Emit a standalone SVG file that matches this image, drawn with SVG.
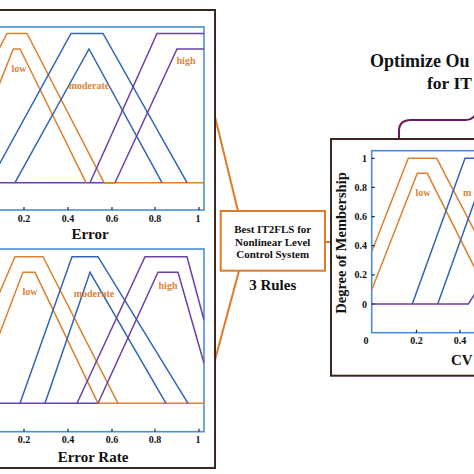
<svg xmlns="http://www.w3.org/2000/svg" width="474" height="474" viewBox="0 0 474 474">
<style>
text{font-family:"Liberation Serif","Times New Roman",serif;font-weight:bold}
.box{fill:none;stroke:#3b2620;stroke-width:2}
.frame{fill:none;stroke:#4a8fd6;stroke-width:1.6}
.mf{fill:none;stroke-width:1.5;stroke-linejoin:miter}
.o{stroke:#dc822f}
.b{stroke:#3463b4}
.p{stroke:#6a40a6}
.tick{stroke:#1a2a55;stroke-width:1.2}
.tl{font-size:10px;fill:#111;text-anchor:middle}
.lab{font-size:10px;fill:#d9853c}
.ax{font-size:15px;fill:#111;text-anchor:middle}
.con{fill:none;stroke:#e07b2a;stroke-width:2}
</style>
<defs>
<clipPath id="c1"><rect x="-30" y="27" width="234" height="183"/></clipPath>
<clipPath id="c2"><rect x="-30" y="249" width="234" height="182.7"/></clipPath>
<clipPath id="c3"><rect x="371.7" y="150.7" width="120" height="182"/></clipPath>
</defs>
<rect width="474" height="474" fill="#fff"/>

<g id="connectors">
<path class="con" d="M215,116.7 L238,211"/>
<path class="con" d="M239,270.7 L215,360"/>
<path class="con" d="M325,242 H331"/>
<path d="M399,139 V131 Q399,120 411,120 H466 Q472,120 476,114" fill="none" stroke="#6b1a60" stroke-width="2"/>
</g>

<g id="input-box">
<rect class="box" x="-10" y="10" width="225" height="458"/>
</g>

<g id="error-chart">
<rect class="frame" x="-30" y="27" width="234" height="183"/>
<g clip-path="url(#c1)">
<path class="mf p" d="M-30,182.7 H115"/>
<path class="mf o" d="M104,182.7 H210"/>
<path class="mf o" d="M-70,182.7 L7,33.5 L27,33.5 L104,182.7"/>
<path class="mf o" d="M-40,182.7 L13.3,49 L20,49 L86,182.7"/>
<path class="mf b" d="M-10.8,182.7 L71,33.5 L103,33.5 L187,182.7"/>
<path class="mf b" d="M15,182.7 L89,49 L162,182.7"/>
<path class="mf p" d="M90,182.7 L157,33.5 L210,33.5"/>
<path class="mf p" d="M115,182.7 L177,49 L210,49"/>
</g>
<path class="tick" d="M24,210 v-3 M68,210 v-3 M112,210 v-3 M155,210 v-3 M199,210 v-3"/>
<text class="tl" x="24" y="222">0.2</text>
<text class="tl" x="68" y="222">0.4</text>
<text class="tl" x="112" y="222">0.6</text>
<text class="tl" x="155" y="222">0.8</text>
<text class="tl" x="198" y="222">1</text>
<text class="lab" x="19" y="72" text-anchor="middle">low</text>
<text class="lab" x="89" y="89" text-anchor="middle">moderate</text>
<text class="lab" x="186" y="64" text-anchor="middle">high</text>
<text class="ax" x="90" y="239">Error</text>
</g>

<g id="error-rate-chart">
<rect class="frame" x="-30" y="249" width="234" height="182.7"/>
<g clip-path="url(#c2)">
<path class="mf p" d="M-30,403.3 H98"/>
<path class="mf o" d="M98,403.3 H210"/>
<path class="mf o" d="M-48,403.3 L15,256.7 L43,256.7 L118,403.3"/>
<path class="mf o" d="M-27,403.3 L23,272.3 L35,272.3 L98,403.3"/>
<path class="mf b" d="M20,403.3 L72,256.7 L98,256.7 L188,403.3"/>
<path class="mf b" d="M45,403.3 L90,272.3 L166,403.3"/>
<path class="mf p" d="M77,403.3 L145,256.7 L187,256.7 L204,320"/>
<path class="mf p" d="M98,403.3 L158,272.3 L178,272.3 L204,363.3"/>
</g>
<path class="tick" d="M24,431.7 v-3 M68,431.7 v-3 M112,431.7 v-3 M155,431.7 v-3 M199,431.7 v-3"/>
<text class="tl" x="24" y="443">0.2</text>
<text class="tl" x="68" y="443">0.4</text>
<text class="tl" x="112" y="443">0.6</text>
<text class="tl" x="155" y="443">0.8</text>
<text class="tl" x="198" y="443">1</text>
<text class="lab" x="30" y="295" text-anchor="middle">low</text>
<text class="lab" x="94" y="297" text-anchor="middle">moderate</text>
<text class="lab" x="168" y="289" text-anchor="middle">high</text>
<text class="ax" x="93" y="462">Error Rate</text>
</g>

<g id="best-it2fls">
<rect x="220.7" y="211" width="104.3" height="59.7" fill="#fff" stroke="#e07b2a" stroke-width="2"/>
<text x="272.7" y="233.3" font-size="11" text-anchor="middle" fill="#111">Best IT2FLS for</text>
<text x="272.7" y="245.7" font-size="11" text-anchor="middle" fill="#111">Nonlinear Level</text>
<text x="272.7" y="257.5" font-size="11" text-anchor="middle" fill="#111">Control System</text>
<text x="272.7" y="290" font-size="15" text-anchor="middle" fill="#111">3 Rules</text>
</g>

<g id="title">
<text x="370" y="67" font-size="18" fill="#111">Optimize Ou</text>
<text x="427" y="89" font-size="17.5" fill="#111">for IT</text>
</g>

<g id="output-chart">
<rect class="box" x="331" y="139" width="160" height="236.7"/>
<rect class="frame" x="371.7" y="150.7" width="120" height="182"/>
<g clip-path="url(#c3)">
<path class="mf p" d="M371.7,304 H468.3 L480,286"/>
<path class="mf o" d="M371.7,251.7 L408.3,158.3 L436.7,158.3 L480,241.5"/>
<path class="mf o" d="M371.7,290 L417.3,173.3 L427.3,173.3 L480,278.5"/>
<path class="mf b" d="M412.3,304 L465,158.3 L480,158.3"/>
<path class="mf b" d="M437.7,304 L480,186"/>
</g>
<path class="tick" d="M371.7,158.3 h3 M371.7,187.4 h3 M371.7,216.6 h3 M371.7,245.7 h3 M371.7,274.9 h3 M371.7,304 h3 M416.5,332.7 v-3 M460,332.7 v-3"/>
<g font-size="10" fill="#111" text-anchor="end">
<text x="367" y="161.8">1</text>
<text x="367" y="190.9">0.8</text>
<text x="367" y="220.1">0.6</text>
<text x="367" y="249.2">0.4</text>
<text x="367" y="278.4">0.2</text>
<text x="367" y="307.5">0</text>
</g>
<text class="tl" x="366" y="344">0</text>
<text class="tl" x="416.5" y="344">0.2</text>
<text class="tl" x="460" y="344">0.4</text>
<text class="lab" x="423" y="196" text-anchor="middle">low</text>
<text class="lab" x="463" y="196">m</text>
<text x="451" y="365" font-size="15" fill="#111">CV</text>
<text x="346" y="243" font-size="14.5" fill="#111" text-anchor="middle" transform="rotate(-90 346 243)">Degree of Membership</text>
</g>
</svg>
